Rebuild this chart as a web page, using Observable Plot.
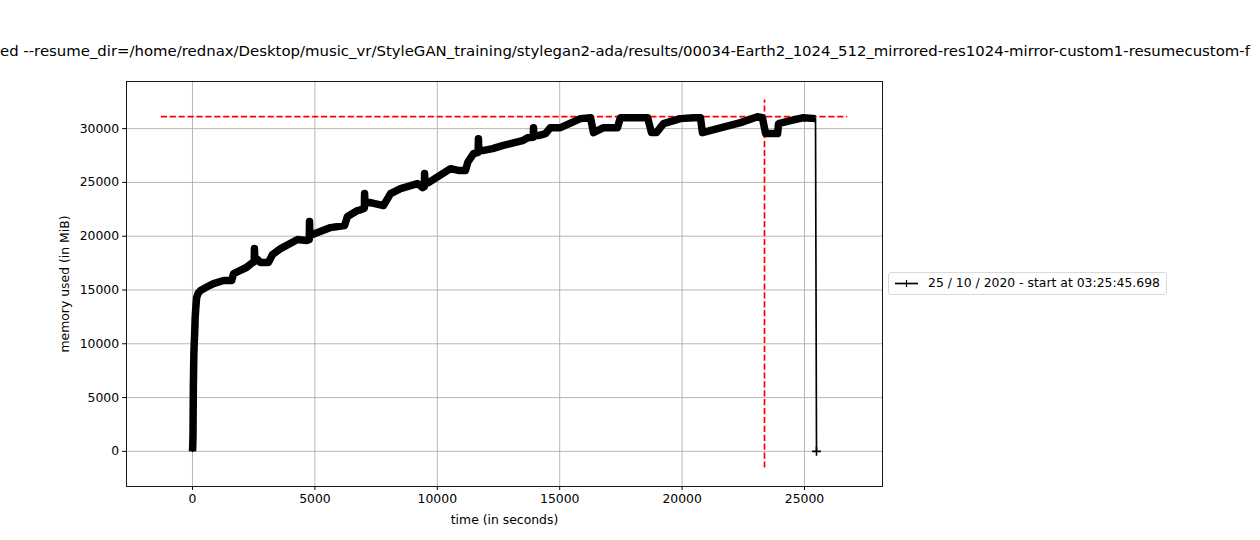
<!DOCTYPE html>
<html>
<head>
<meta charset="utf-8">
<script src="https://cdn.jsdelivr.net/npm/d3@7"></script>
<script src="https://cdn.jsdelivr.net/npm/@observablehq/plot@0.6"></script>
<style>
  body { margin: 0; background: #fff; }
  #wrap { position: relative; width: 1260px; height: 540px; overflow: hidden; font-family: "DejaVu Sans", sans-serif; background: #fff; }
  #title { position: absolute; left: 0; top: 0; width: 1260px; height: 60px; overflow: hidden; }
  #title span { position: absolute; left: 0px; top: 44px; font-size: 14.9px; white-space: nowrap; line-height: 1; color: #000; }
  #chart { position: absolute; left: 0; top: 60px; }
  #legend { position: absolute; left: 888px; top: 272px; width: 279px; height: 23px; border: 1px solid #d9d9d9; border-radius: 3px; box-sizing: border-box; background: #fff; font-size: 12.4px; color: #000; }
  #legend svg { position: absolute; left: 0; top: 0; }
  #legend span { position: absolute; left: 39px; top: 2.5px; white-space: nowrap; line-height: 1.2; }
</style>
</head>
<body>
<div id="wrap">
  <div id="title"><span id="titleText"></span></div>
  <div id="chart"></div>
  <div id="legend"></div>
</div>
<script>
// ---- data ----
const titleText = "ed --resume_dir=/home/rednax/Desktop/music_vr/StyleGAN_training/stylegan2-ada/results/00034-Earth2_1024_512_mirrored-res1024-mirror-custom1-resumecustom-f";
const seriesLabel = "25 / 10 / 2020 - start at 03:25:45.698";
const xLabel = "time (in seconds)";
const yLabel = "memory used (in MiB)";

const times = [
  0, 10, 20, 25, 30, 35, 45, 55, 70, 90, 110, 140, 170, 230, 330, 600, 860, 1270, 1600, 1680,
  2200, 2450, 2520, 2530, 2545, 2610, 2780, 3100, 3270, 3600, 4290, 4660, 4770, 4780, 4795, 4900,
  5640, 6210, 6330, 6740, 6860, 7020, 7030, 7045, 7270, 7800, 8090, 8500, 9190, 9400, 9470, 9480, 9495,
  9640, 10540, 10900, 11150, 11250, 11480, 11670, 11680, 11695, 11850, 12260, 12660, 12990, 13480,
  13690, 13920, 13930, 13945, 14130, 14420, 14620, 15030, 15850, 16260, 16380, 16790, 17360, 17480,
  18590, 18750, 18950, 19240, 19930, 20470, 20750, 20830, 21450, 22390, 23080, 23280, 23410, 23900,
  23940, 24430, 24960, 25450, 25490
];
const memory = [
  0, 500, 1500, 3000, 4500, 6000, 7500, 9000, 10000, 11000, 12500, 13500, 14300, 14700, 14950, 15300, 15600, 15880, 15880, 16530,
  17090, 17550, 17600, 18850, 17900, 17920, 17550, 17550, 18300, 18850, 19690, 19600, 19700, 21360, 20100, 20150,
  20800, 20990, 21830, 22380, 22450, 22600, 23960, 23100, 23130, 22850, 23960, 24430, 24890, 24520, 24600, 25820, 25000,
  24980, 26280, 26100, 26100, 26900, 27680, 27800, 29070, 28000, 27960, 28140, 28420, 28610, 28880,
  29160, 29200, 30090, 29400, 29350, 29540, 30090, 30090, 30930, 31020, 29630, 30090, 30090, 31020,
  31020, 29630, 29630, 30460, 30930, 31020, 31020, 29630, 30000, 30560, 31110, 31020, 29540, 29540,
  30460, 30740, 31020, 30930, 0
];

// reference lines (dashed red)
const limitMemory = [31114];
const limitSpanX = [-1274, 26764];
const markTime = [23366];
const markSpanY = [-1556, 32670];

// axes
const xDomain = [-2696, 28186];
const yDomain = [-3267, 34381];
const xTicks = [0, 5000, 10000, 15000, 20000, 25000];
const yTicks = [0, 5000, 10000, 15000, 20000, 25000, 30000];

// ---- build ----
document.getElementById("titleText").textContent = titleText;

const rows = times.map((t, i) => ({t, m: memory[i]}));
const band = rows.slice(0, rows.length - 1);
const last = rows.slice(rows.length - 1);
const hline = limitMemory.map(y => ({y, x1: limitSpanX[0], x2: limitSpanX[1]}));
const vline = markTime.map(x => ({x, y1: markSpanY[0], y2: markSpanY[1]}));

const chart = Plot.plot({
  width: 1260,
  height: 480,
  marginLeft: 126,
  marginRight: 378,
  marginTop: 21,
  marginBottom: 54,
  style: {fontFamily: "DejaVu Sans", fontSize: "12.4px", color: "black", background: "white", overflow: "visible"},
  x: {domain: xDomain},
  y: {domain: yDomain},
  marks: [
    Plot.gridX(xTicks, {stroke: "#b0b0b0", strokeOpacity: 1, strokeWidth: 0.9}),
    Plot.gridY(yTicks, {stroke: "#b0b0b0", strokeOpacity: 1, strokeWidth: 0.9}),
    Plot.ruleY(hline, {y: "y", x1: "x1", x2: "x2", stroke: "red", strokeWidth: 1.67, strokeDasharray: "6.2,2.7"}),
    Plot.ruleX(vline, {x: "x", y1: "y1", y2: "y2", stroke: "red", strokeWidth: 1.67, strokeDasharray: "6.2,2.7"}),
    Plot.line(band, {x: "t", y: "m", stroke: "black", strokeWidth: 7.5, strokeLinejoin: "round", strokeLinecap: "butt"}),
    Plot.line(rows, {x: "t", y: "m", stroke: "black", strokeWidth: 1.67}),
    Plot.dot(last, {x: "t", y: "m", symbol: "plus", r: 3, stroke: "black", strokeWidth: 1.6}),
    Plot.frame({stroke: "black", strokeWidth: 0.9}),
    Plot.axisX(xTicks, {tickSize: 3.9, tickPadding: 3.5, tickFormat: d => String(d), label: xLabel, labelAnchor: "center", labelArrow: "none", labelOffset: 37}),
    Plot.axisY(yTicks, {tickSize: 3.9, tickPadding: 3.5, tickFormat: d => String(d), label: yLabel, labelAnchor: "center", labelArrow: "none", labelOffset: 66})
  ]
});
document.getElementById("chart").appendChild(chart);

// legend
const leg = document.getElementById("legend");
const ns = "http://www.w3.org/2000/svg";
const s = document.createElementNS(ns, "svg");
s.setAttribute("width", "36"); s.setAttribute("height", "21");
s.innerHTML = '<line x1="6" x2="29" y1="10.5" y2="10.5" stroke="black" stroke-width="1.67"/>' +
              '<line x1="17.5" x2="17.5" y1="7" y2="14" stroke="black" stroke-width="1.2"/>';
leg.appendChild(s);
const sp = document.createElement("span");
sp.textContent = seriesLabel;
leg.appendChild(sp);
</script>
</body>
</html>
